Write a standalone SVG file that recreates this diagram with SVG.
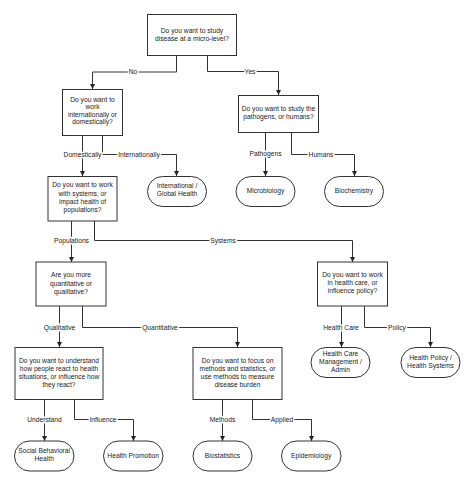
<svg xmlns="http://www.w3.org/2000/svg" width="474" height="481" viewBox="0 0 474 481">
<defs>
<style>
.box{fill:#fff;stroke:#333;stroke-width:1}
.t{font-family:"Liberation Sans",Arial,sans-serif;font-size:6.7px;fill:#222;text-anchor:middle}
.c{fill:none;stroke:#333;stroke-width:1}
.lbl{font-family:"Liberation Sans",Arial,sans-serif;font-size:6.7px;fill:#222;text-anchor:middle;stroke:#fff;stroke-width:3;paint-order:stroke;stroke-linejoin:round}
</style>
<marker id="arr" viewBox="0 0 8 8" refX="8" refY="4" markerWidth="5" markerHeight="5" orient="auto" markerUnits="userSpaceOnUse">
<path d="M0,0 L8,4 L0,8 z" fill="#222"/>
</marker>
</defs>
<rect width="474" height="481" fill="#fff"/>

<g id="connectors">
<path class="c" marker-end="url(#arr)" d="M176.5,55 V72 H92.5 V89"/>
<path class="c" marker-end="url(#arr)" d="M207.5,55 V71.5 H278.5 V95"/>
<path class="c" marker-end="url(#arr)" d="M82.5,135 V176"/>
<path class="c" marker-end="url(#arr)" d="M102.5,135 V154.5 H176.5 V176"/>
<path class="c" marker-end="url(#arr)" d="M265.5,132 V176"/>
<path class="c" marker-end="url(#arr)" d="M291.5,132 V154.5 H354.5 V176"/>
<path class="c" marker-end="url(#arr)" d="M71.5,221 V262"/>
<path class="c" marker-end="url(#arr)" d="M94.5,221 V240.5 H352.5 V262"/>
<path class="c" marker-end="url(#arr)" d="M341.5,306 V347"/>
<path class="c" marker-end="url(#arr)" d="M364.5,306 V327.5 H430.5 V347"/>
<path class="c" marker-end="url(#arr)" d="M59.5,306 V347"/>
<path class="c" marker-end="url(#arr)" d="M82.5,306 V327.5 H237.5 V347"/>
<path class="c" marker-end="url(#arr)" d="M44.5,399 V441"/>
<path class="c" marker-end="url(#arr)" d="M74.5,399 V419.5 H133.5 V441"/>
<path class="c" marker-end="url(#arr)" d="M222.5,399 V441"/>
<path class="c" marker-end="url(#arr)" d="M252.5,399 V419.5 H311.5 V441"/>
<text class="lbl" x="133" y="74.4">No</text>
<text class="lbl" x="250" y="73.9">Yes</text>
<text class="lbl" x="82.5" y="156.9">Domestically</text>
<text class="lbl" x="139" y="156.9">Internationally</text>
<text class="lbl" x="265.5" y="155.9">Pathogens</text>
<text class="lbl" x="321" y="156.9">Humans</text>
<text class="lbl" x="71.5" y="242.9">Populations</text>
<text class="lbl" x="223" y="242.9">Systems</text>
<text class="lbl" x="341" y="329.9">Health Care</text>
<text class="lbl" x="397" y="329.9">Policy</text>
<text class="lbl" x="59.5" y="329.9">Qualitative</text>
<text class="lbl" x="160" y="329.9">Quantitative</text>
<text class="lbl" x="44.5" y="421.9">Understand</text>
<text class="lbl" x="103" y="421.9">Influence</text>
<text class="lbl" x="222.5" y="421.9">Methods</text>
<text class="lbl" x="282" y="421.9">Applied</text>
</g>

<g id="q-micro">
<rect class="box" x="147.5" y="14.5" width="89" height="41"/>
<text class="t" x="192" y="33.2">Do you want to study</text>
<text class="t" x="192" y="41">disease at a micro-level?</text>
</g>
<g id="q-international">
<rect class="box" x="62.5" y="89.5" width="60" height="46"/>
<text class="t" x="92.5" y="101.7">Do you want to</text>
<text class="t" x="92.5" y="109.2">work</text>
<text class="t" x="92.5" y="116.8">internationally or</text>
<text class="t" x="92.5" y="124.4">domestically?</text>
</g>
<g id="q-pathogens">
<rect class="box" x="238.5" y="95.5" width="80" height="37"/>
<text class="t" x="278.5" y="111.1">Do you want to study the</text>
<text class="t" x="278.5" y="118.8">pathogens, or humans?</text>
</g>
<g id="t-global">
<rect class="box" x="147.5" y="176.5" width="59" height="30" rx="15"/>
<text class="t" x="177" y="188.4">International /</text>
<text class="t" x="177" y="196.4">Global Health</text>
</g>
<g id="t-micro">
<rect class="box" x="236" y="176.5" width="59" height="30" rx="15"/>
<text class="t" x="265.5" y="192.6">Microbiology</text>
</g>
<g id="t-biochem">
<rect class="box" x="324.5" y="176.5" width="59" height="30" rx="15"/>
<text class="t" x="354" y="192.6">Biochemistry</text>
</g>
<g id="q-systems">
<rect class="box" x="48" y="176.5" width="69" height="44.5"/>
<text class="t" x="82.5" y="187.4">Do you want to work</text>
<text class="t" x="82.5" y="195.7">with systems, or</text>
<text class="t" x="82.5" y="204">impact health of</text>
<text class="t" x="82.5" y="212.3">populations?</text>
</g>
<g id="q-quant">
<rect class="box" x="36" y="262" width="70" height="44"/>
<text class="t" x="71" y="277.4">Are you more</text>
<text class="t" x="71" y="285.6">quantitative or</text>
<text class="t" x="71" y="293.7">qualitative?</text>
</g>
<g id="q-healthcare">
<rect class="box" x="317.5" y="262" width="70" height="44"/>
<text class="t" x="352.5" y="277.4">Do you want to work</text>
<text class="t" x="352.5" y="285.2">in health care, or</text>
<text class="t" x="352.5" y="293.1">influence policy?</text>
</g>
<g id="t-hcm">
<rect class="box" x="311" y="347.5" width="59" height="30" rx="15"/>
<text class="t" x="340.5" y="355.8">Health Care</text>
<text class="t" x="340.5" y="363.9">Management /</text>
<text class="t" x="340.5" y="372">Admin</text>
</g>
<g id="t-policy">
<rect class="box" x="401" y="347.5" width="59" height="30" rx="15"/>
<text class="t" x="430.5" y="359.7">Health Policy /</text>
<text class="t" x="430.5" y="368">Health Systems</text>
</g>
<g id="q-understand">
<rect class="box" x="15" y="347.5" width="88" height="52"/>
<text class="t" x="59" y="363.4">Do you want to understand</text>
<text class="t" x="59" y="371.4">how people react to health</text>
<text class="t" x="59" y="379.4">situations, or influence how</text>
<text class="t" x="59" y="387.4">they react?</text>
</g>
<g id="q-methods">
<rect class="box" x="193" y="347.5" width="89" height="52"/>
<text class="t" x="237.5" y="363.4">Do you want to focus on</text>
<text class="t" x="237.5" y="371.4">methods and statistics, or</text>
<text class="t" x="237.5" y="379.4">use methods to measure</text>
<text class="t" x="237.5" y="387.4">disease burden</text>
</g>
<g id="t-sbh">
<rect class="box" x="14.5" y="441" width="59.5" height="30" rx="15"/>
<text class="t" x="44.2" y="453.4">Social Behavioral</text>
<text class="t" x="44.2" y="461.4">Health</text>
</g>
<g id="t-promo">
<rect class="box" x="103.5" y="441" width="59.5" height="30" rx="15"/>
<text class="t" x="133.2" y="457.6">Health Promotion</text>
</g>
<g id="t-biostat">
<rect class="box" x="193" y="441" width="59" height="30" rx="15"/>
<text class="t" x="222.5" y="457.6">Biostatistics</text>
</g>
<g id="t-epi">
<rect class="box" x="281.5" y="441" width="59.5" height="30" rx="15"/>
<text class="t" x="311.2" y="457.6">Epidemiology</text>
</g>
</svg>
